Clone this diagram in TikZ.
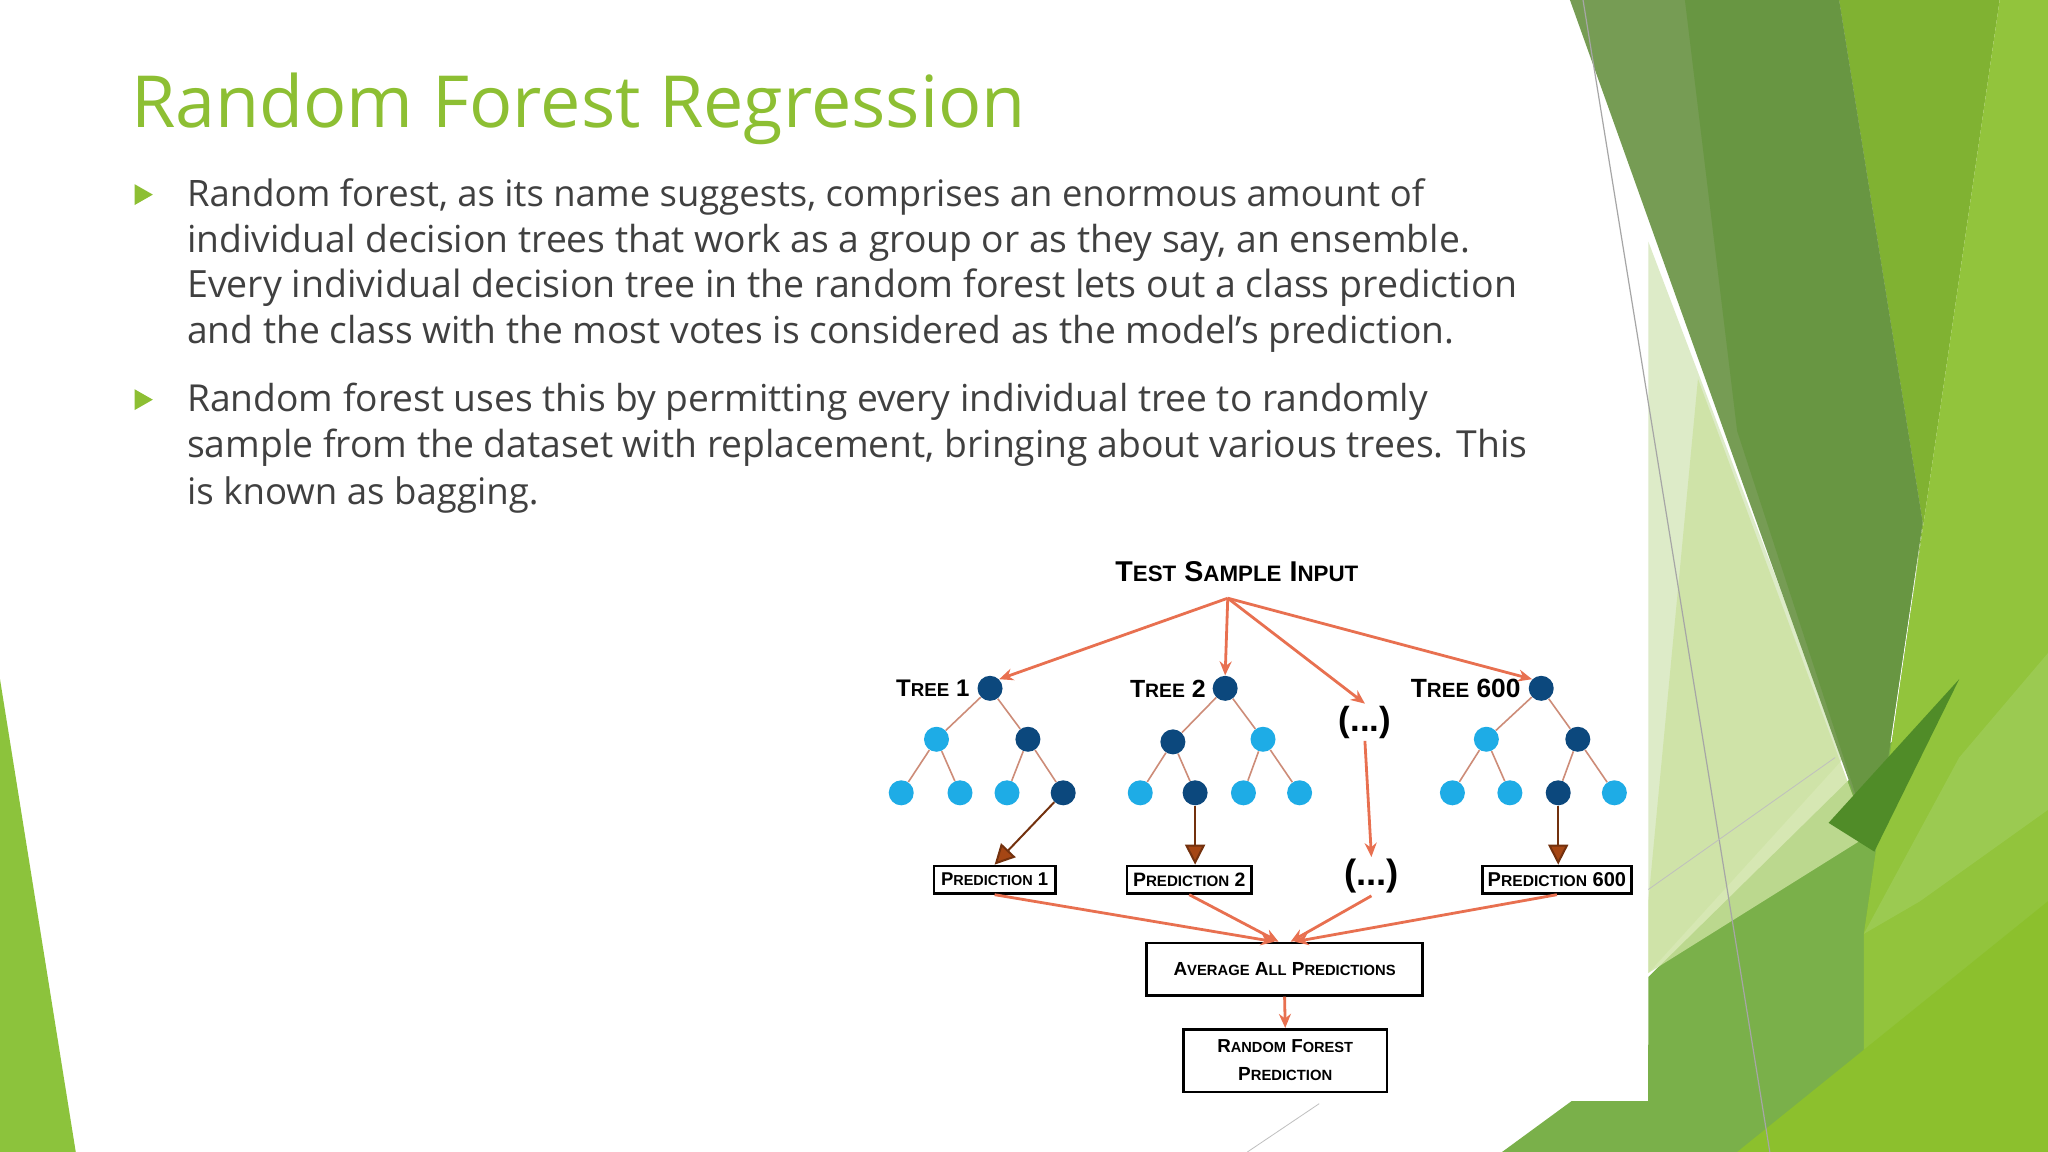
\documentclass[tikz,border=0pt]{standalone}
\usepackage{fontspec}
\setmainfont{Open Sans}
\newfontfamily\dg{Liberation Sans}
\usetikzlibrary{arrows.meta}
\definecolor{ttl}{RGB}{141,191,51}
\definecolor{body}{RGB}{64,64,64}
\definecolor{org}{RGB}{232,112,80}
\definecolor{navy}{RGB}{12,72,125}
\definecolor{sky}{RGB}{30,172,230}
\definecolor{edge}{RGB}{205,140,120}
\definecolor{brn}{RGB}{165,70,20}
\newcommand\SC[2]{#1\scalebox{0.78}{#2}}
\newcommand\BL[2]{\resizebox{#1\unitlength}{!}{#2}}
\begin{document}
\setlength{\unitlength}{0.653pt}
\begin{tikzpicture}[x=0.653pt,y=-0.653pt,
  line/.style={anchor=base west,inner sep=0,text=body},
  bul/.style={fill=ttl},
  nd/.style={circle,minimum size=12.5pt,inner sep=0},
  dn/.style={nd,fill=navy},
  ln/.style={nd,fill=sky},
  tedge/.style={draw=edge,line width=0.8pt},
  oar/.style={draw=org,line width=1.4pt,-{Stealth[length=7pt,width=6pt]}},
  bar/.style={draw=brn!70!black,line width=1pt,-{Triangle[length=10pt,width=10pt,fill=brn]}},
  box/.style={draw=black,line width=1.3pt,inner sep=0,font=\dg\bfseries},
  lab/.style={font=\dg\bfseries,inner sep=1pt}]
\useasboundingbox (0,0) rectangle (1568,882);
\fill[white] (0,0) rectangle (1568,882);
% background shapes
\fill[color={rgb,255:red,122;green,176;blue,74}] (1150,882) -- (1262,800) -- (1262,748) -- (1435,578) -- (1568,480) -- (1568,882) -- cycle;
\fill[color={rgb,255:red,221;green,235;blue,200}] (1262,185) -- (1412,580) -- (1262,745) -- cycle;
\fill[color={rgb,255:red,204;green,226;blue,160},opacity=0.8] (1300,290) -- (1430,640) -- (1262,745) -- (1262,690) -- cycle;
\fill[color={rgb,255:red,128;green,178;blue,50}] (1408,0) -- (1531,0) -- (1427,715) -- (1440,650) -- (1472,400) -- cycle;
\fill[color={rgb,255:red,146;green,196;blue,60}] (1531,0) -- (1568,0) -- (1568,882) -- (1427,882) -- (1427,715) -- cycle;
\fill[color={rgb,255:red,118;green,156;blue,84}] (1202,0) -- (1408,0) -- (1472,400) -- (1435,652) -- cycle;
\fill[color={rgb,255:red,104;green,150;blue,66}] (1290,0) -- (1408,0) -- (1472,400) -- (1435,652) -- (1330,330) -- cycle;
\fill[color={rgb,255:red,80;green,140;blue,40}] (1400,630) -- (1500,520) -- (1435,652) -- cycle;
\fill[color={rgb,255:red,160;green,205;blue,90},opacity=0.7] (1427,715) -- (1500,580) -- (1568,500) -- (1568,620) -- (1470,690) -- cycle;
\fill[color={rgb,255:red,140;green,192;blue,45}] (1330,882) -- (1568,690) -- (1568,882) -- cycle;
\fill[color={rgb,255:red,140;green,195;blue,60}] (0,520) -- (58,882) -- (0,882) -- cycle;
\fill[white] (640,400) rectangle (1262,843);
\draw[gray!70,line width=0.6pt] (1212,0) -- (1355,882);
\draw[gray!50,line width=0.4pt] (1262,681) -- (1405,580);
\draw[gray!50,line width=0.4pt] (955,882) -- (1010,845);
% title and text
\node[anchor=base west,inner sep=0,text=ttl] (title) at (100,98) {\BL{685}{Random Forest Regression}};
\fill[bul] (103,141) -- (117,149) -- (103,157) -- cycle;
\fill[bul] (103,298) -- (117,306) -- (103,314) -- cycle;
\node[line] (l1) at (143,158) {\BL{947}{Random forest, as its name suggests, comprises an enormous amount of}};
\node[line] (l2) at (143,193) {\BL{982}{individual decision trees that work as a group or as they say, an ensemble.}};
\node[line] (l3) at (143,228) {\BL{1018}{Every individual decision tree in the random forest lets out a class prediction}};
\node[line] (l4) at (143,263) {\BL{970}{and the class with the most votes is considered as the model's prediction.}};
\node[line] (l5) at (143,315) {\BL{950}{Random forest uses this by permitting every individual tree to randomly}};
\node[line] (l6) at (143,350) {\BL{1026}{sample from the dataset with replacement, bringing about various trees. This}};
\node[line] (l7) at (143,386) {\BL{269}{is known as bagging.}};
% diagram
\node[lab] (in) at (947,438) {\BL{186}{\SC{T}{EST} \SC{S}{AMPLE} \SC{I}{NPUT}}};
\coordinate (src) at (940,458);
% tree 1
\node[dn] (a0) at (758,527) {};
\node[ln] (a1) at (717,566) {}; \node[dn] (a2) at (787,566) {};
\node[ln] (a3) at (690,607) {}; \node[ln] (a4) at (735,607) {};
\node[ln] (a5) at (771,607) {}; \node[dn] (a6) at (814,607) {};
\node[lab,anchor=east] (ta) at (744,527) {\BL{56}{\SC{T}{REE} 1}};
% tree 2
\node[dn] (b0) at (938,527) {};
\node[dn] (b1) at (898,568) {}; \node[ln] (b2) at (967,566) {};
\node[ln] (b3) at (873,607) {}; \node[dn] (b4) at (915,607) {};
\node[ln] (b5) at (952,607) {}; \node[ln] (b6) at (995,607) {};
\node[lab,anchor=east] (tb) at (925,527) {\BL{58}{\SC{T}{REE} 2}};
% tree 600
\node[dn] (c0) at (1180,527) {};
\node[ln] (c1) at (1138,566) {}; \node[dn] (c2) at (1208,566) {};
\node[ln] (c3) at (1112,607) {}; \node[ln] (c4) at (1156,607) {};
\node[dn] (c5) at (1193,607) {}; \node[ln] (c6) at (1236,607) {};
\node[lab,anchor=east] (tc) at (1166,527) {\BL{84}{\SC{T}{REE} 600}};
\foreach \t in {a,b,c}{
  \draw[tedge] (\t0) -- (\t1); \draw[tedge] (\t0) -- (\t2);
  \draw[tedge] (\t1) -- (\t3); \draw[tedge] (\t1) -- (\t4);
  \draw[tedge] (\t2) -- (\t5); \draw[tedge] (\t2) -- (\t6);}
\node[font=\dg\bfseries,inner sep=1pt] (d1) at (1045,553) {\BL{40}{(...)}};
\node[font=\dg\bfseries,inner sep=1pt] (d2) at (1050,671) {\BL{42}{(...)}};
\draw[oar] (src) -- (a0.north east);
\draw[oar] (src) -- (b0.north);
\draw[oar] (src) -- (d1.north);
\draw[oar] (src) -- (c0.north west);
\draw[oar] (d1.south) -- (d2.north);
% predictions
\node[box,minimum width=93\unitlength,minimum height=21\unitlength] (p1) at (761.5,673.5) {\BL{82}{\SC{P}{REDICTION} 1}};
\node[box,minimum width=95\unitlength,minimum height=21\unitlength] (p2) at (910.5,673.5) {\BL{86}{\SC{P}{REDICTION} 2}};
\node[box,minimum width=114\unitlength,minimum height=21\unitlength] (p3) at (1192,673.5) {\BL{106}{\SC{P}{REDICTION} 600}};
\draw[bar] (a6) -- (p1.north);
\draw[bar] (b4) -- (p2.north -| b4);
\draw[bar] (c5) -- (p3.north -| c5);
\node[box,minimum width=211\unitlength,minimum height=40\unitlength] (avg) at (983.5,742) {\BL{170}{\SC{A}{VERAGE} \SC{A}{LL} \SC{P}{REDICTIONS}}};
\coordinate (m) at (983,720);
\draw[oar] (p1.south) -- ([xshift=-5]avg.north);
\draw[oar] (p2.south) -- ([xshift=-3]avg.north);
\draw[oar] (d2.south) -- ([xshift=3]avg.north);
\draw[oar] (p3.south) -- ([xshift=5]avg.north);
\node[box,minimum width=156\unitlength,minimum height=48\unitlength,align=center] (rf) at (984,812) {\BL{104}{\SC{R}{ANDOM} \SC{F}{OREST}}\\[2pt]\BL{72}{\SC{P}{REDICTION}}};
\draw[oar] (avg.south) -- (rf.north);
\end{tikzpicture}
\end{document}
